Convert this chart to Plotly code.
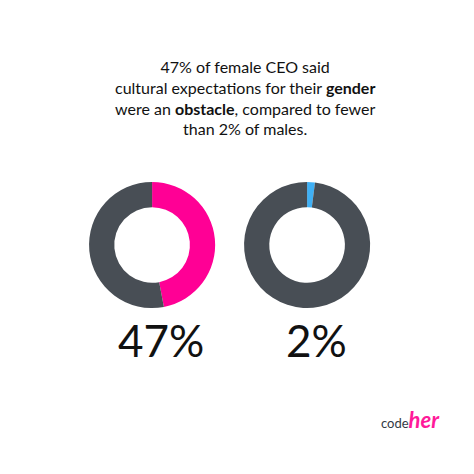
import plotly.graph_objects as go

# share of CEOs who said cultural expectations for their gender were an obstacle
groups = ['Female', 'Male']
obstacle_pct = [47, 2]
colors = ['#ff0095', '#3fb0f5']
ring_color = '#484e55'

fig = go.Figure()

domains = [[0.171, 0.437], [0.498, 0.764]]
centers = [0.323, 0.65]
for g, v, c, dx, cx in zip(groups, obstacle_pct, colors, domains, centers):
    fig.add_trace(go.Pie(
        values=[v, 100 - v], labels=[g + ' yes', g + ' no'],
        marker=dict(colors=[c, ring_color], line=dict(width=0)),
        hole=0.6, sort=False, direction='clockwise', rotation=0,
        textinfo='none', hoverinfo='skip', showlegend=False,
        domain=dict(x=dx, y=[0.367, 0.633]),
    ))
    fig.add_annotation(text=f'{v}%', x=cx, y=0.3, xref='paper', yref='paper',
                       xanchor='center', yanchor='middle', showarrow=False,
                       font=dict(family='Lato', size=44, color='#111111'))

fig.add_annotation(
    text='47% of female CEO said<br>cultural expectations for their <b>gender</b><br>'
         'were an <b>obstacle</b>, compared to fewer<br>than 2% of males.',
    x=0.5, y=0.9, xref='paper', yref='paper', showarrow=False, xanchor='center',
    font=dict(family='Lato', size=16, color='#111111'), align='center')

fig.add_annotation(
    text='<span style="color:#333a44">code</span><span style="color:#ff1a9a;font-size:22px"><i><b>her</b></i></span>',
    x=0.915, y=0.1, xref='paper', yref='paper', showarrow=False, xanchor='right',
    font=dict(family='Lato', size=13))

fig.update_layout(width=474, height=474, margin=dict(l=0, r=0, t=0, b=0),
                  paper_bgcolor='white', plot_bgcolor='white')
fig.write_html('out.html')
